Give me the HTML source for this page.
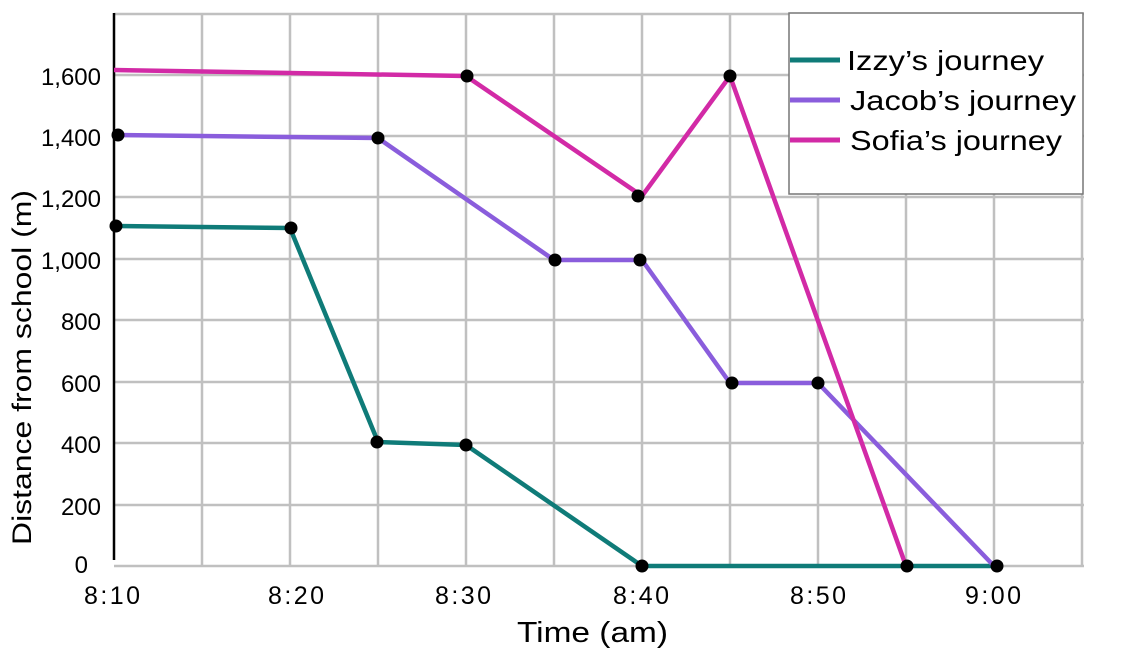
<!DOCTYPE html><html><head><style>body{margin:0;background:#fff}</style></head><body>
<svg width="1121" height="661" viewBox="0 0 1121 661" font-family="Liberation Sans, sans-serif">
<g stroke="#c0c0c0" stroke-width="2.5" fill="none">
<path d="M202 14V566M290 14V566M378 14V566M466 14V566M554 14V566M642 14V566M730 14V566M818 14V566M906 14V566M994 14V566M1082 14V566"/>
<path d="M114 14H1084M114 75H1084M114 136H1084M114 197H1084M114 259H1084M114 320H1084M114 382H1084M114 443H1084M114 505H1084M114 566H1084"/>
</g>
<line x1="114" y1="13" x2="114" y2="560" stroke="#000" stroke-width="2.5"/>
<rect x="789" y="13" width="294" height="181" fill="#fff" stroke="#777" stroke-width="1.5"/>
<g fill="none" stroke-width="4.5" stroke-linejoin="round">
<polyline stroke="#0f7b78" points="114,226 290,228 378,442 466,445 642,566 994,566"/>
<polyline stroke="#8a5ddc" points="118,135 378,138 554,260 642,260 730,383 818,383 994,566"/>
<polyline stroke="#d22aa6" points="114,70 466,76 642,196 730,76 906,566"/>
</g>
<g fill="#000">
<circle cx="116" cy="226" r="6.5"/><circle cx="291" cy="228" r="6.5"/><circle cx="377" cy="442" r="6.5"/><circle cx="466" cy="445" r="6.5"/><circle cx="642" cy="566" r="6.5"/>
<circle cx="118" cy="135" r="6.5"/><circle cx="378" cy="138" r="6.5"/><circle cx="555" cy="260" r="6.5"/><circle cx="640" cy="260" r="6.5"/><circle cx="732" cy="383" r="6.5"/><circle cx="818" cy="383" r="6.5"/><circle cx="997" cy="566" r="6.5"/>
<circle cx="467" cy="76" r="6.5"/><circle cx="638" cy="196" r="6.5"/><circle cx="730" cy="76" r="6.5"/><circle cx="907" cy="566" r="6.5"/>
</g>
<g stroke-width="5">
<line x1="790" y1="60" x2="840" y2="60" stroke="#0f7b78"/>
<line x1="790" y1="100" x2="840" y2="100" stroke="#8a5ddc"/>
<line x1="790" y1="140" x2="840" y2="140" stroke="#d22aa6"/>
</g>
<g font-size="28" fill="#000">
<text x="847" y="70" textLength="197" lengthAdjust="spacingAndGlyphs">Izzy’s journey</text>
<text x="850" y="110" textLength="226" lengthAdjust="spacingAndGlyphs">Jacob’s journey</text>
<text x="850" y="150" textLength="212" lengthAdjust="spacingAndGlyphs">Sofia’s journey</text>
</g>
<g font-size="24" text-anchor="end" fill="#000">
<text x="101" y="85">1,600</text><text x="101" y="146">1,400</text><text x="101" y="207">1,200</text><text x="101" y="269">1,000</text><text x="101" y="330">800</text><text x="101" y="392">600</text><text x="101" y="453">400</text><text x="101" y="515">200</text><text x="88" y="573">0</text>
</g>
<g font-size="25" fill="#000" lengthAdjust="spacingAndGlyphs">
<text x="84" y="604" textLength="56">8:10</text><text x="268" y="604" textLength="56">8:20</text><text x="435" y="604" textLength="56">8:30</text><text x="613" y="604" textLength="56">8:40</text><text x="790" y="604" textLength="56">8:50</text><text x="965" y="604" textLength="56">9:00</text>
</g>
<text x="517" y="642" font-size="29" textLength="151" lengthAdjust="spacingAndGlyphs">Time (am)</text>
<text transform="translate(31,545) rotate(-90)" font-size="27" textLength="355" lengthAdjust="spacingAndGlyphs">Distance from school (m)</text>
</svg></body></html>
